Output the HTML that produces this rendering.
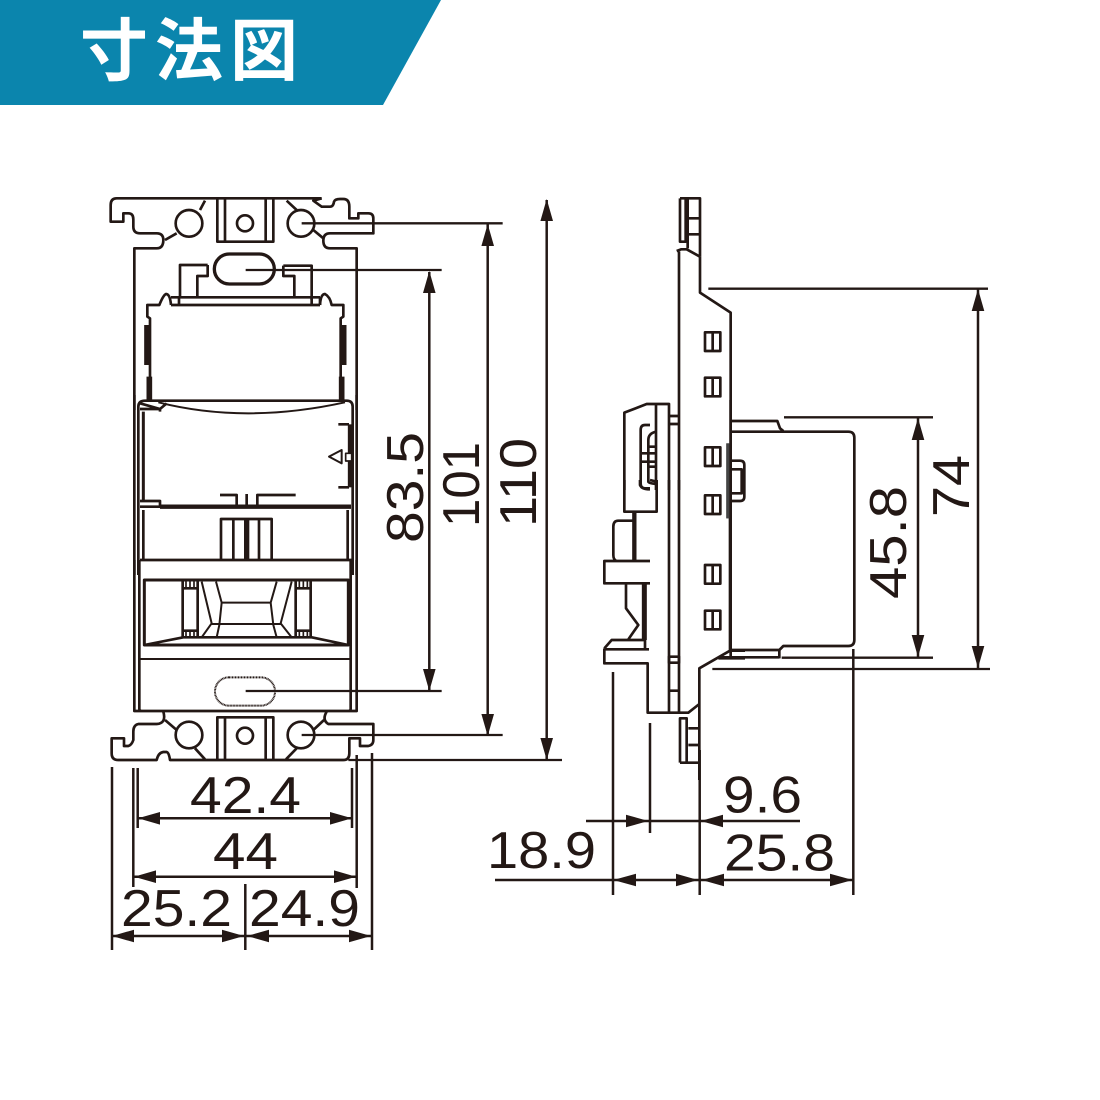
<!DOCTYPE html>
<html><head><meta charset="utf-8"><style>
html,body{margin:0;padding:0;background:#fff;width:1100px;height:1100px;overflow:hidden}
svg{display:block}
.t{font-family:"Liberation Sans",sans-serif;font-size:52px;fill:#231815;stroke:none}
.h{font-family:"Liberation Sans","Noto Sans CJK JP",sans-serif;font-size:68px;font-weight:700;fill:#fff;letter-spacing:7px}
.z{fill:none;stroke:#231815;stroke-width:8;stroke-linejoin:round}
.d{fill:none;stroke:#231815;stroke-width:2.5}
.a{fill:#231815;stroke:none}
</style></head><body>
<svg width="1100" height="1100" viewBox="0 0 1100 1100" xmlns="http://www.w3.org/2000/svg">
<polygon points="0,0 441,0 383,105 0,105" fill="#0b85ad"/>
<text class="h" x="80" y="75">寸法図</text>

<!-- front view: top -->
<g transform="translate(100,190) scale(.33333)" class="z">
<path d="M665 25H50Q32 25 32 45V95H70V70H85Q100 70 100 88V110Q100 130 120 130H170Q190 130 190 150Q190 175 170 175H103V660"/>
<path d="M665 25L640 32L665 50H690Q700 50 702 35Q705 27 720 27H730Q748 27 748 50V85H775V70H805Q820 70 820 85V130H690Q670 130 670 152Q670 175 690 175H770V660"/>
<circle cx="267" cy="100" r="40"/><circle cx="603" cy="100" r="40"/>
<path d="M230 130L195 150M300 60L315 32M560 32L590 60M640 120L670 145"/>
<path d="M352 28V155H520V28M375 28V155M497 28V155"/><circle cx="435" cy="100" r="24"/>
<rect x="343" y="192" width="180" height="90" rx="45" stroke-width="10"/>
<path d="M323 225H240V322M292 322V258H323V225M550 227H635V330M583 322V258H550V227"/>
<path d="M213 322H660M213 345H660M237 322V345M635 322V345M660 322V345"/>
<path d="M213 345Q210 312 198 312Q190 315 178 345H142V380L150 385V630M660 345Q662 312 675 312Q690 320 695 345H730V380L722 385V630"/>
<path d="M605 100H1208M437 240H1025" stroke-width="7"/>
<path d="M141 405V525M731 405V525M148 560V630M725 560V630" stroke-width="17"/>
</g>

<!-- front view: mid -->
<g transform="translate(125,395) scale(.33333)" class="z">
<path d="M28 0V540M695 0V540"/>
<path d="M40 540V35Q40 17 60 17H665Q683 17 683 35V540"/>
<path d="M100 22Q360 88 660 22" stroke-width="6"/>
<path d="M45 42H105V50M45 25L105 42M125 25L105 42"/>
<path d="M55 50V315" stroke-width="9"/>
<path d="M45 318H105V335H45"/>
<path d="M105 335H678" stroke-width="13"/>
<path d="M55 345V495M668 345V495M45 495H680"/>
<path d="M288 495V372H440V495M325 372V495M402 372V495"/>
<path d="M365 372V495" stroke-width="16"/>
<path d="M285 300H335V330M365 297V330M512 300H397V330"/>
<path d="M640 88H672M640 277H672"/>
<path d="M674 88V277" stroke-width="11"/>
<path d="M612 185L650 165V205Z" stroke-width="6"/>
<rect x="662" y="175" width="18" height="23" stroke-width="5" fill="#fff"/>
</g>

<!-- front view: bottom -->
<g transform="translate(100,560) scale(.33333)" class="z">
<rect x="133" y="60" width="612" height="195" stroke-width="9"/>
<path d="M133 255L250 232H635L745 255" />
<path d="M248 62V235M293 62V235M587 62V235M632 62V235"/>
<path d="M250 85H290M250 212H290M590 85H630M590 212H630"/>
<path d="M258 64V84M270 64V84M282 64V84M258 213V233M270 213V233M282 213V233M598 64V84M610 64V84M622 64V84M598 213V233M610 213V233M622 213V233" stroke-width="5"/>
<path d="M305 65L335 190L305 232M348 65L365 128L358 195L350 232M365 128H515M530 65L512 128L520 195L530 232M575 65L542 190L575 232M335 192H542" stroke-width="6"/>
<path d="M118 297H752" stroke-width="6"/>
<rect x="345" y="352" width="180" height="85" rx="42" stroke-width="6" stroke-dasharray="3 1.5"/>
<path d="M103 0V453H770V0M118 0V447Q118 453 125 453M752 0V447Q752 453 745 453"/>
<path d="M190 455Q200 490 170 492H115Q100 495 100 515V540Q95 555 85 558H72V535H35V580Q35 600 55 600H170Q175 578 190 576H200Q207 578 210 600H730Q748 600 748 580V535H780V558H805Q820 555 820 540V492H685Q665 480 680 455"/>
<path d="M195 480L230 510M285 565L315 598M640 510L672 480M590 565L558 598"/>
<circle cx="267" cy="525" r="40"/><circle cx="603" cy="525" r="40"/>
<path d="M352 598V472H520V598M375 472V598M497 472V598"/><circle cx="435" cy="527" r="24"/>
<path d="M437 393H1025M605 525H1208M745 600H1386" stroke-width="7"/>
</g>

<!-- side view upper -->
<g transform="translate(595,190) scale(.33333)" class="z">
<path d="M255 25H315V200M255 25V155H272V28M278 25V175M280 85H315M280 133H315"/>
<path d="M315 200V308L407 368V760M252 900V180M245 183L258 178H275L315 200"/>
<path d="M330 427H376V483H330ZM353 427V483M330 563H376V619H330ZM353 563V619M330 772H376V828H330ZM353 772V828"/>
<path d="M340 296H1179" stroke-width="7"/>
<path d="M88 900V668L155 642H222V900M183 642V900M222 678H252M222 702H252"/>
<path d="M165 705H150Q137 705 137 720V880Q137 895 150 895H165M183 725Q160 730 160 750V875Q160 880 183 882M160 770H183M140 790H183M140 815H183M160 830H183"/>
<path d="M399 760V900" stroke="#444" stroke-width="9"/>
</g>

<!-- side view lower -->
<g transform="translate(595,480) scale(.33333)" class="z">
<path d="M88 0V95H185V0M222 0V695M252 0V695M135 0V15Q140 28 165 28M165 0L185 5"/>
<path d="M118 95V240" stroke-width="13"/>
<path d="M118 122H70Q55 122 55 140V225Q55 240 65 243M165 243H28V310H165M93 310V385L130 435L100 478"/>
<path d="M148 310V480" stroke-width="15"/>
<path d="M28 505L50 480H150V510M28 508H162M28 505V550H158V698H280L313 672V900M313 900V565L405 512V0M405 512H450M370 535H450"/>
<path d="M222 530H252V548H222ZM222 632H252"/>
<path d="M255 848V715H275V848M255 848H315M280 745H315M280 795H315"/>
<path d="M330 46H376V102H330ZM353 46V102M330 255H376V311H330ZM353 255V311M330 392H376V448H330ZM353 392V448"/>
<path d="M399 0V115" stroke="#444" stroke-width="9"/>
<path d="M352 567H1185" stroke-width="7"/>
</g>

<!-- side view body -->
<g transform="translate(720,400) scale(.33333)" class="z">
<path d="M32 0V770"/>
<path d="M32 63H172L180 85L190 93M32 95H385Q403 95 403 113V720Q403 738 385 738H190L178 750V775M32 750H178M0 772H178"/>
<path d="M35 182H60Q73 182 73 195V290Q73 303 60 303H35M35 208H65V280H35"/>
<path d="M23 130V355" stroke="#444" stroke-width="9"/>
<path d="M192 52H639M185 773H639" stroke-width="7"/>
</g>

<!-- dimension lines -->
<g class="d">
<path d="M429.3 272V690M487.7 224V735M546.7 200V760"/>
<path d="M918 418V657M978 289V668"/>
<path d="M112 767V950M133.3 768V887M137.7 768V828M352 768V828M356.7 755V888M372 753V950M245.3 884V950"/>
<path d="M138 818.3H352M134 876.7H356M112 936H372"/>
<path d="M586 821H800M495 880H853"/>
<path d="M613 672V895M650 723V833M699.7 750V895M853.3 649V895"/>
</g>
<g class="a">
<polygon points="429.3,271 423,293 435.6,293"/><polygon points="429.3,691 423,669 435.6,669"/>
<polygon points="487.7,224 481.4,246 494,246"/><polygon points="487.7,736 481.4,714 494,714"/>
<polygon points="546.7,199 540.4,221 553,221"/><polygon points="546.7,760 540.4,738 553,738"/>
<polygon points="918,418 911.7,440 924.3,440"/><polygon points="918,657 911.7,635 924.3,635"/>
<polygon points="978,289 971.7,311 984.3,311"/><polygon points="978,668 971.7,646 984.3,646"/>
<polygon points="138,818.3 160,812 160,824.6"/><polygon points="352,818.3 330,812 330,824.6"/>
<polygon points="134,876.7 156,870.4 156,883"/><polygon points="356,876.7 334,870.4 334,883"/>
<polygon points="112,936 134,929.7 134,942.3"/><polygon points="244,936 222,929.7 222,942.3"/>
<polygon points="247,936 269,929.7 269,942.3"/><polygon points="371,936 349,929.7 349,942.3"/>
<polygon points="648.3,821 626,814.7 626,827.3"/><polygon points="700.7,821 723,814.7 723,827.3"/>
<polygon points="613.3,880 636,873.7 636,886.3"/><polygon points="698,880 676,873.7 676,886.3"/>
<polygon points="701.7,880 724,873.7 724,886.3"/><polygon points="852.7,880 830,873.7 830,886.3"/>
</g>

<!-- labels -->
<text class="t" x="190" y="813" textLength="111" lengthAdjust="spacingAndGlyphs">42.4</text>
<text class="t" x="213" y="869" textLength="65" lengthAdjust="spacingAndGlyphs">44</text>
<text class="t" x="121" y="926" textLength="111" lengthAdjust="spacingAndGlyphs">25.2</text>
<text class="t" x="249" y="926" textLength="111" lengthAdjust="spacingAndGlyphs">24.9</text>
<text class="t" x="723" y="812.5" textLength="79" lengthAdjust="spacingAndGlyphs">9.6</text>
<text class="t" x="487" y="868" textLength="109" lengthAdjust="spacingAndGlyphs">18.9</text>
<text class="t" x="724" y="870.5" textLength="111" lengthAdjust="spacingAndGlyphs">25.8</text>
<text class="t" transform="translate(423,543) rotate(-90)" textLength="111" lengthAdjust="spacingAndGlyphs">83.5</text>
<text class="t" transform="translate(479,527) rotate(-90)" textLength="85" lengthAdjust="spacingAndGlyphs">101</text>
<text class="t" transform="translate(536,527) rotate(-90)" textLength="89" lengthAdjust="spacingAndGlyphs">110</text>
<text class="t" transform="translate(906,599) rotate(-90)" textLength="113" lengthAdjust="spacingAndGlyphs">45.8</text>
<text class="t" transform="translate(969,517) rotate(-90)" textLength="62" lengthAdjust="spacingAndGlyphs">74</text>
</svg>
</body></html>
